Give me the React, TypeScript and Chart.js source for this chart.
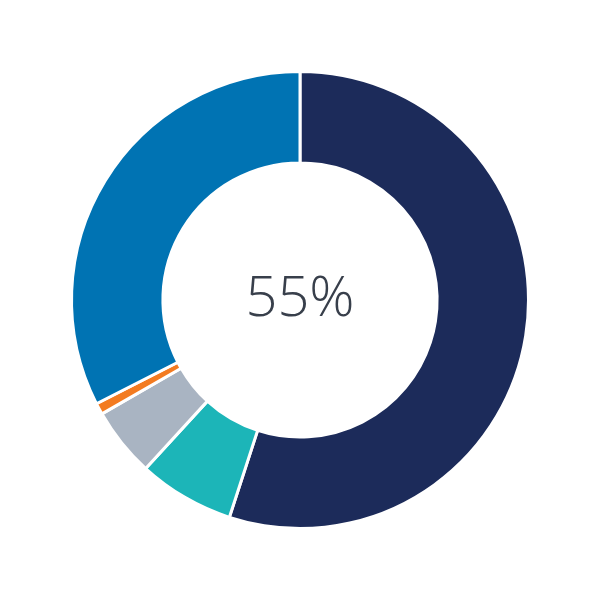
import React, { useEffect, useRef } from "react";
import { Chart, registerables } from "chart.js";

Chart.register(...registerables);

const categories = ["Navy", "Teal", "Gray", "Orange", "Blue"];
const values = [55, 6.8, 4.9, 0.8, 32.5];
const colors = ["#1c2b5a", "#1cb5b8", "#a9b4c2", "#f37b21", "#0073b3"];
const centerLabel = "55%";
const centerFont = "350 56px 'Open Sans', 'Noto Sans', sans-serif";

export default function App() {
  const ref = useRef<HTMLCanvasElement | null>(null);
  useEffect(() => {
    if (!ref.current) return;
    const centerText = {
      id: "centerText",
      afterDraw(chart: any) {
        const { ctx, chartArea } = chart;
        const cx = (chartArea.left + chartArea.right) / 2;
        const cy = (chartArea.top + chartArea.bottom) / 2;
        ctx.save();
        ctx.fillStyle = "#383f4b";
        ctx.font = centerFont;
        ctx.textAlign = "center";
        ctx.textBaseline = "alphabetic";
        ctx.fillText(centerLabel, cx, cy + 16);
        ctx.restore();
      },
    };
    const chart = new Chart(ref.current, {
      type: "doughnut",
      data: {
        labels: categories,
        datasets: [
          {
            data: values,
            backgroundColor: colors,
            borderColor: "#ffffff",
            borderWidth: 3,
            hoverOffset: 0,
          },
        ],
      },
      options: {
        responsive: false,
        animation: false,
        cutout: "60%",
        layout: { padding: 70 },
        plugins: {
          legend: { display: false },
          tooltip: { enabled: false },
        },
      },
      plugins: [centerText],
    });
    let alive = true;
    if ((document as any).fonts && (document as any).fonts.load) {
      (document as any).fonts.load(centerFont, centerLabel).then(() => {
        if (alive) chart.draw();
      });
    }
    return () => {
      alive = false;
      chart.destroy();
    };
  }, []);
  return (
    <div style={{ position: "fixed", left: 0, top: 0, width: 600, height: 600, background: "#fff" }}>
      <canvas ref={ref} width={600} height={600} style={{ width: 600, height: 600 }} />
    </div>
  );
}
